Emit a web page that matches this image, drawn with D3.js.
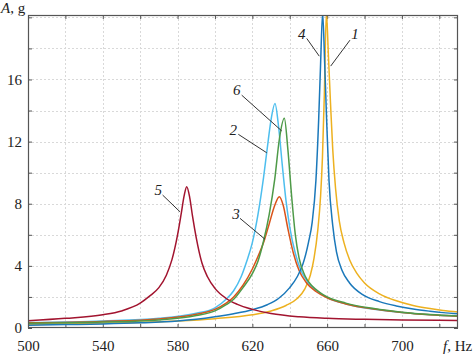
<!DOCTYPE html>
<html>
<head>
<meta charset="utf-8">
<script src="https://cdn.jsdelivr.net/npm/d3@7"></script>
<style>
  html, body { margin: 0; padding: 0; background: #fff; }
  svg { display: block; }
  text { font-family: "Liberation Serif", "Times New Roman", serif; }
</style>
</head>
<body>
<svg id="chart" width="474" height="355"></svg>
<script>
// ---------- data ----------
// Curve 1 (yellow)
const freq1 = [500,520,540,560,580,600,620,630,638,644,648,651,653,655,656.5,657.5,658.5,659.6,660.7,661.8,663,664.5,666.5,669,672,676,680,688,697,706,715,722,730];
const amp1  = [0.22,0.26,0.30,0.36,0.45,0.60,0.85,1.10,1.45,1.90,2.50,3.40,4.50,6.30,8.50,11.0,15.0,20.3,17.5,14.5,11.5,9.0,6.9,5.5,4.4,3.5,2.9,2.2,1.75,1.45,1.25,1.13,1.03];
// Curve 2 (light blue)
const freq2 = [500,540,570,590,600,606,610,614,617,620,623,626,628,630,632.1,634,636,638,640,643,646,650,655,660,670,685,700,715,730];
const amp2  = [0.35,0.45,0.62,0.95,1.30,1.85,2.40,3.30,4.30,5.50,7.30,9.70,11.6,13.4,14.45,13.0,10.5,8.2,6.5,4.8,3.7,2.9,2.35,1.95,1.55,1.20,1.00,0.85,0.75];
// Curve 3 (orange)
const freq3 = [500,540,570,590,600,606,610,615,620,623,626,629,632,634.4,636.5,639,642,645,649,654,660,670,685,700,715,730];
const amp3  = [0.33,0.42,0.58,0.88,1.20,1.60,2.00,2.75,3.80,4.60,5.50,6.70,7.90,8.45,7.90,6.40,4.80,3.70,2.90,2.35,1.95,1.55,1.22,1.00,0.85,0.75];
// Curve 4 (blue)
const freq4 = [500,520,540,560,580,590,600,610,620,628,634,640,644,647,650,652,654,655.5,656.5,657.6,658.7,659.7,661,663,665,668,672,679,688,697,706,715,722,730];
const amp4  = [0.18,0.22,0.26,0.33,0.45,0.56,0.72,0.92,1.18,1.50,1.90,2.60,3.30,4.10,5.50,6.80,9.50,13.5,17.0,20.3,17.0,13.5,9.5,6.6,4.9,3.7,2.9,2.15,1.70,1.42,1.22,1.08,0.99,0.91];
// Curve 5 (dark red)
const freq5 = [500,520,540,550,560,565,570,574,577,580,582,583.5,584.9,586.5,588,590,593,596,600,606,612,620,630,645,660,680,700,730];
const amp5  = [0.46,0.62,0.85,1.10,1.60,2.05,2.60,3.40,4.40,6.00,7.40,8.50,9.10,8.40,7.20,5.80,4.20,3.30,2.55,1.90,1.52,1.20,0.93,0.72,0.62,0.56,0.52,0.48];
// Curve 6 (green)
const freq6 = [500,540,570,590,600,606,610,615,620,623,626,629,632,634.5,637.1,639,641,643,645,648,652,656,660,670,685,700,715,730];
const amp6  = [0.30,0.38,0.52,0.80,1.10,1.50,1.85,2.60,3.50,4.30,5.60,7.30,9.60,12.2,13.5,11.5,8.5,6.0,4.5,3.4,2.7,2.3,2.0,1.6,1.25,1.02,0.87,0.77];

const curveIds    = ["1","2","3","4","5","6"];
const curveColors = ["#EDB120","#4DBEEE","#D95319","#1A78BA","#A2142F","#4E9A48"];

// Axis ticks
const xGridTicks  = [500,520,540,560,580,600,620,640,660,680,700,720];
const xLabelTicks = [500,540,580,620,660,700];
const yGridTicks  = [0,2,4,6,8,10,12,14,16,18,20];
const yLabelTicks = [0,4,8,12,16];

// Annotation labels: [label, textF, textA, lineStartF, lineStartA, lineEndF, lineEndA]
const annLabels = ["4","1","6","2","5","3"];
const annTextF  = [646.4,674.9,611.6,609.8,569.7,611.3];
const annTextA  = [18.96,18.96,15.31,12.74,8.88,7.38];
const annFromF  = [649.1,672.2,614.3,612.5,572.0,613.4];
const annFromA  = [18.64,18.53,14.99,12.47,8.56,7.06];
const annToF    = [655.8,661.9,635.7,627.7,581.3,626.8];
const annToA    = [17.5,16.86,12.69,11.28,7.48,5.71];

// ---------- drawing ----------
const svg = d3.select("#chart");
const x = d3.scaleLinear().domain([500, 730]).range([28, 458]);
const y = d3.scaleLinear().domain([0, 20.15]).range([328, 15]);
const [x0, x1] = x.range();
const [y0, y1] = y.range();

// grid
const grid = svg.append("g").attr("stroke", "#d9d9d9").attr("stroke-width", 1).attr("stroke-dasharray", "2,2");
grid.selectAll(".gx").data(xGridTicks.filter(d => d > 500)).enter().append("line")
  .attr("x1", d => Math.round(x(d)) + 0.5).attr("x2", d => Math.round(x(d)) + 0.5)
  .attr("y1", y1).attr("y2", y0);
grid.selectAll(".gy").data(yGridTicks.filter(d => d > 0)).enter().append("line")
  .attr("y1", d => Math.round(y(d)) + 0.5).attr("y2", d => Math.round(y(d)) + 0.5)
  .attr("x1", x0).attr("x2", x1);

// axes with inward ticks
const axisColor = "#555";
function styleAxis(g) {
  g.select(".domain").remove();
  g.selectAll(".tick line").attr("stroke", axisColor);
  g.selectAll(".tick text").attr("fill", "#222").style("font-size", "15px")
    .style("font-family", "'Liberation Serif', serif");
}
svg.append("g").attr("transform", `translate(0,${y0})`)
  .call(d3.axisBottom(x).tickValues(xGridTicks).tickSize(-4).tickPadding(12)
    .tickFormat(d => xLabelTicks.includes(d) ? d : ""))
  .call(styleAxis);
svg.append("g").attr("transform", `translate(0,${y1})`)
  .call(d3.axisTop(x).tickValues(xGridTicks).tickSize(-4).tickFormat(""))
  .call(styleAxis);
svg.append("g").attr("transform", `translate(${x0},0)`)
  .call(d3.axisLeft(y).tickValues(yGridTicks).tickSize(-4).tickPadding(6)
    .tickFormat(d => yLabelTicks.includes(d) ? d : ""))
  .call(styleAxis);
svg.append("g").attr("transform", `translate(${x1},0)`)
  .call(d3.axisRight(y).tickValues(yGridTicks).tickSize(-4).tickFormat(""))
  .call(styleAxis);

// clip
svg.append("clipPath").attr("id", "plotclip").append("rect")
  .attr("x", x0).attr("y", y1).attr("width", x1 - x0).attr("height", y0 - y1);

// curves
const series = [
  {id: curveIds[0], color: curveColors[0], f: freq1, a: amp1},
  {id: curveIds[1], color: curveColors[1], f: freq2, a: amp2},
  {id: curveIds[2], color: curveColors[2], f: freq3, a: amp3},
  {id: curveIds[3], color: curveColors[3], f: freq4, a: amp4},
  {id: curveIds[4], color: curveColors[4], f: freq5, a: amp5},
  {id: curveIds[5], color: curveColors[5], f: freq6, a: amp6}
];
const line = d3.line().x(d => x(d[0])).y(d => y(d[1])).curve(d3.curveMonotoneX);
svg.append("g").attr("clip-path", "url(#plotclip)")
  .selectAll("path").data(series).enter().append("path")
  .attr("fill", "none").attr("stroke", d => d.color).attr("stroke-width", 1.5)
  .attr("stroke-linejoin", "round")
  .attr("d", d => line(d.f.map((f, i) => [f, d.a[i]])));

// frame
svg.append("rect").attr("x", x0 + 0.5).attr("y", y1 + 0.5)
  .attr("width", x1 - x0 - 1).attr("height", y0 - y1 - 1)
  .attr("fill", "none").attr("stroke", axisColor).attr("stroke-width", 1.2);

// annotations
const ann = svg.append("g");
annLabels.forEach((lab, i) => {
  ann.append("line")
    .attr("x1", x(annFromF[i])).attr("y1", y(annFromA[i]))
    .attr("x2", x(annToF[i])).attr("y2", y(annToA[i]))
    .attr("stroke", "#333").attr("stroke-width", 1);
  ann.append("text")
    .attr("x", x(annTextF[i])).attr("y", y(annTextA[i])).attr("dy", "0.35em")
    .attr("text-anchor", "middle").style("font-style", "italic").style("font-size", "15px")
    .attr("fill", "#222").text(lab);
});

// axis titles
const yt = svg.append("text").attr("x", 1).attr("y", 13).style("font-size", "15px").attr("fill", "#222");
yt.append("tspan").style("font-style", "italic").text("A");
yt.append("tspan").text(", g");
const xt = svg.append("text").attr("x", 443).attr("y", 351).style("font-size", "15px").attr("fill", "#222");
xt.append("tspan").style("font-style", "italic").text("f");
xt.append("tspan").text(", Hz");
</script>
</body>
</html>
